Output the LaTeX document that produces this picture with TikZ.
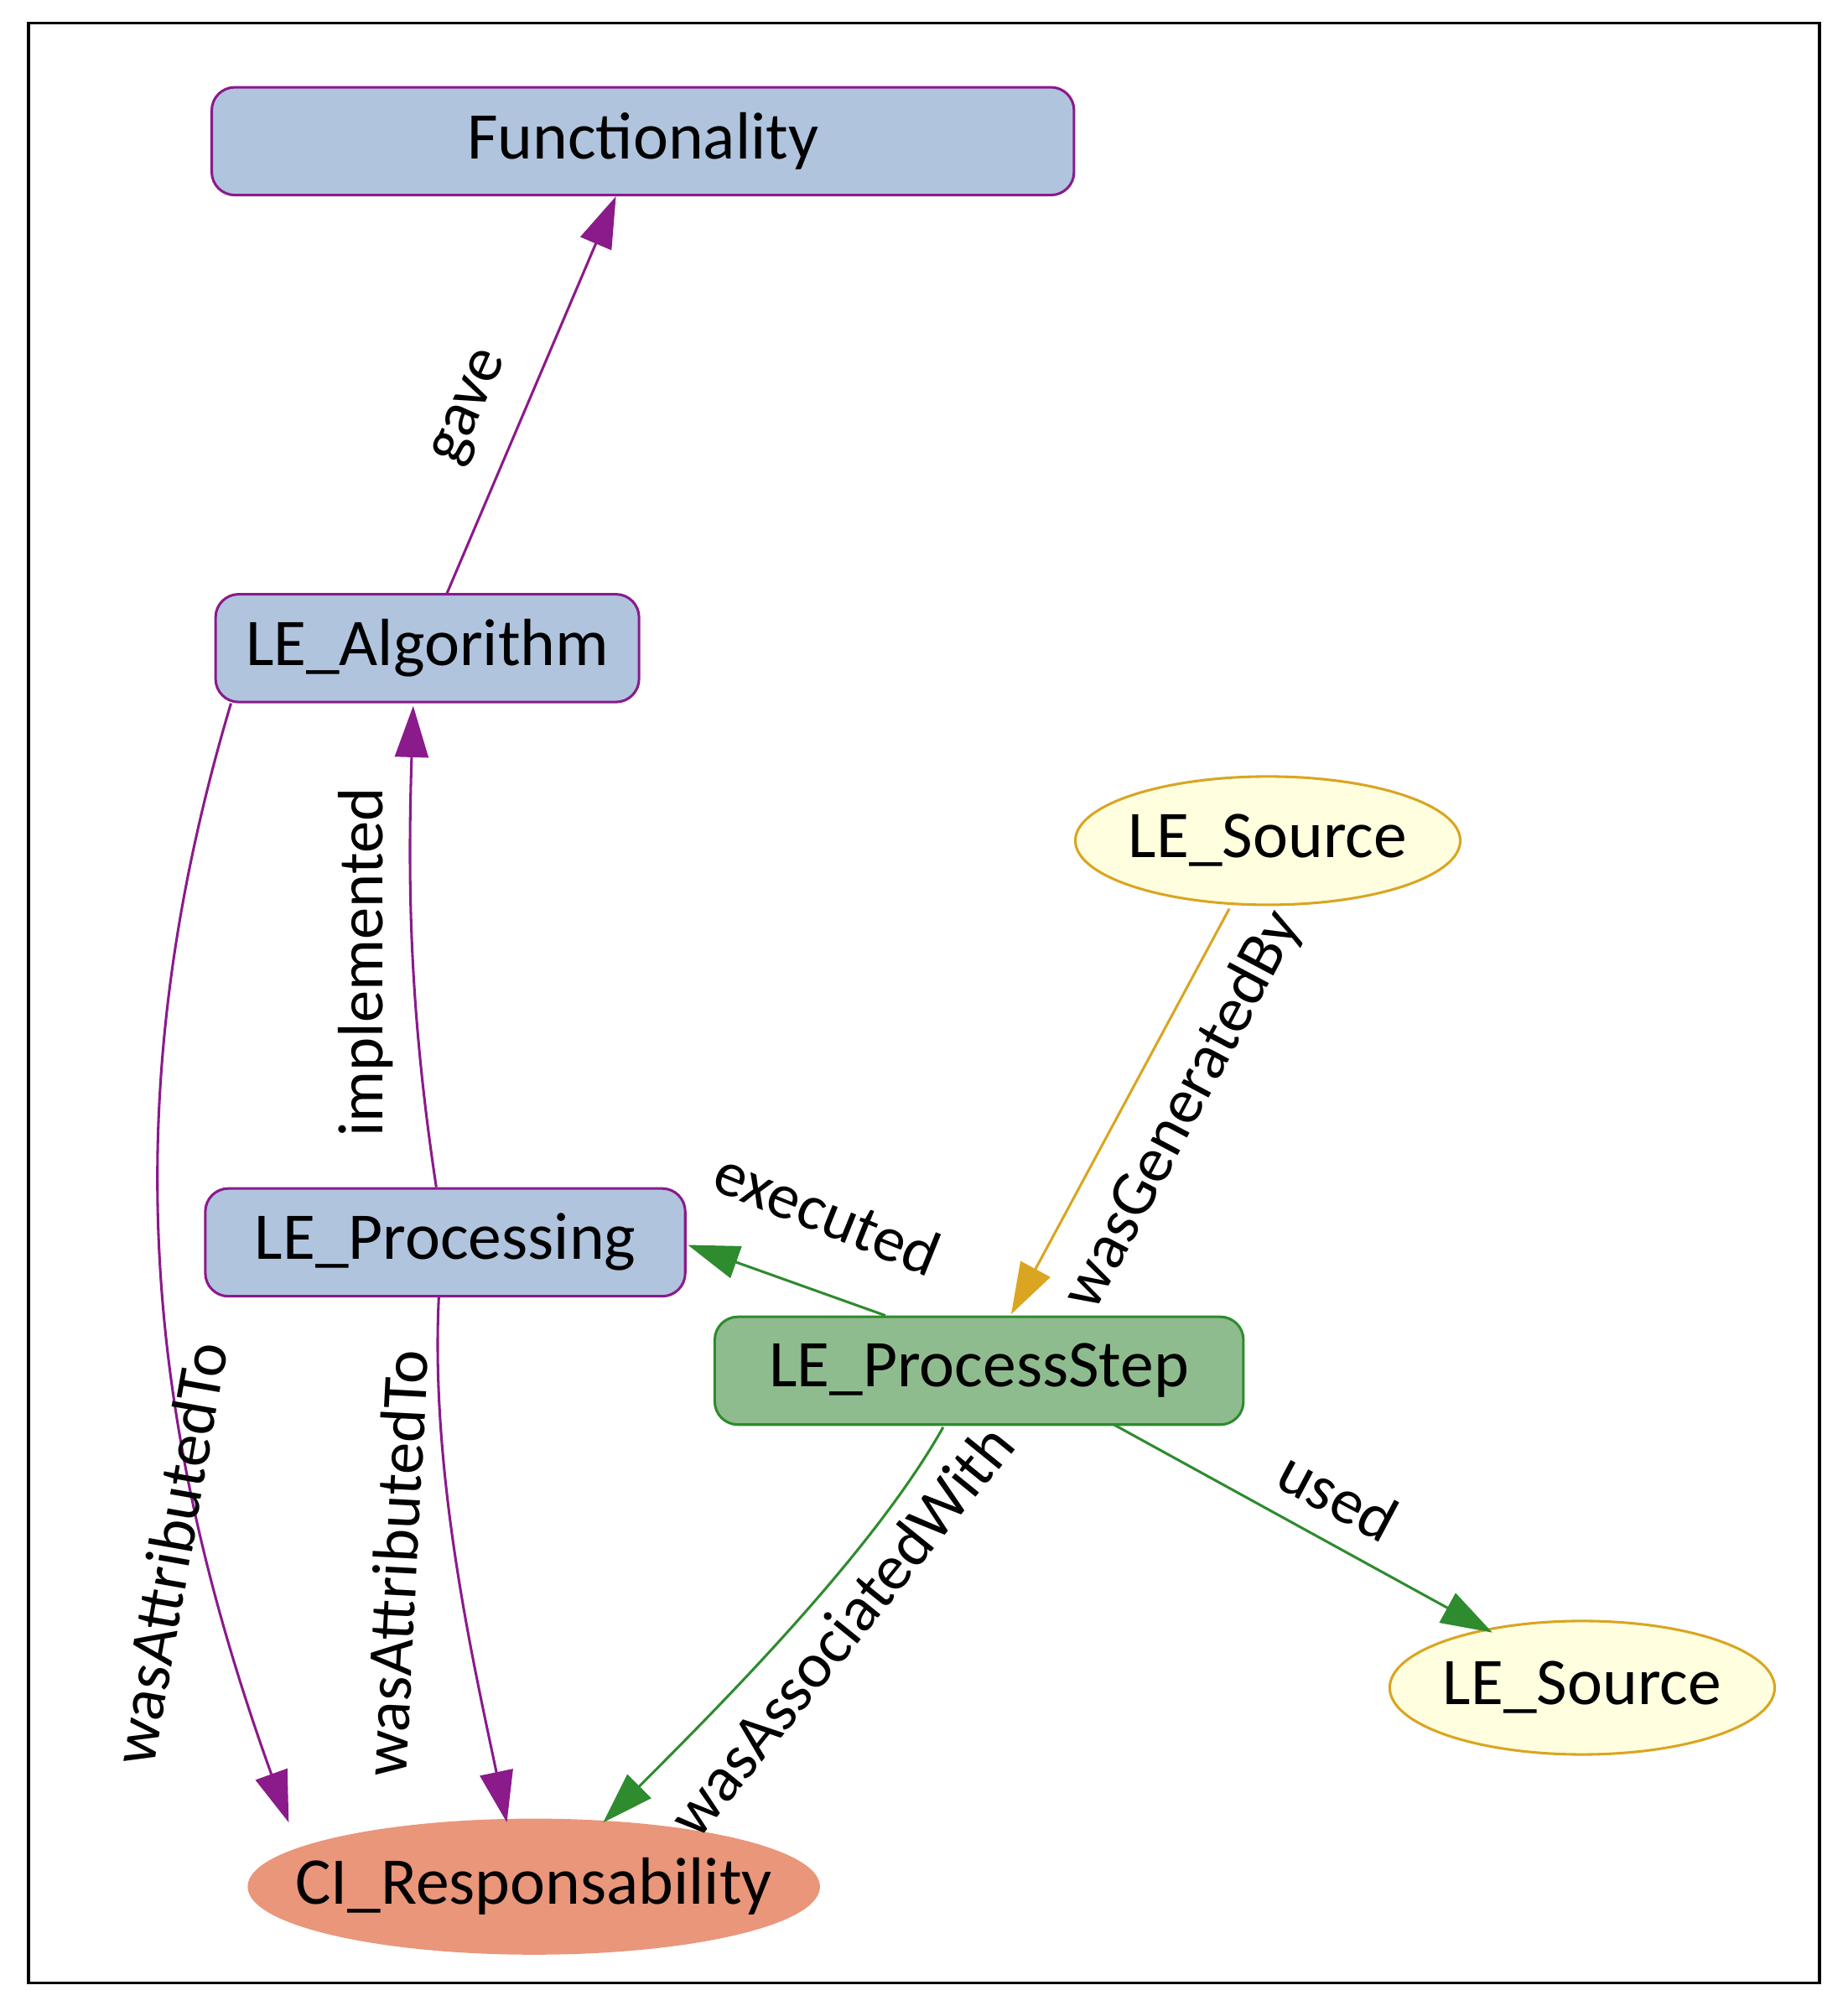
\documentclass[tikz,border=0pt]{standalone}
\usepackage{fontspec}
\setmainfont{Carlito}
\usetikzlibrary{arrows.meta,shapes.geometric}
\definecolor{pur}{HTML}{8B1A8B}
\definecolor{blu}{HTML}{B0C4DE}
\definecolor{grn}{HTML}{8FBC8F}
\definecolor{dgrn}{HTML}{2E8B2E}
\definecolor{gold}{HTML}{DAA520}
\definecolor{ylw}{HTML}{FFFFE0}
\definecolor{sal}{HTML}{E9967A}
\begin{document}
\begin{tikzpicture}[x=0.5pt,y=-0.5pt,
 box/.style={rounded corners=9pt,draw=#1,line width=1pt,font=\fontsize{26}{30}\selectfont,inner sep=0pt},
 ell/.style={ellipse,draw=#1,line width=1pt,font=\fontsize{26}{30}\selectfont,inner sep=0pt},
 ed/.style={draw=#1,line width=1pt,-{Triangle[length=20pt,width=13pt]},color=#1},
 lb/.style={font=\fontsize{25}{30}\selectfont,text=black}]
\useasboundingbox (0,0) rectangle (1440,1563);
\draw[line width=1.2pt] (22,18) rectangle (1418,1545);
\node[box=pur,fill=blu,minimum width=336pt,minimum height=42pt] (F) at (501,110) {Functionality};
\node[box=pur,fill=blu,minimum width=165pt,minimum height=42pt] (A) at (333,505) {LE\_Algorithm};
\node[box=pur,fill=blu,minimum width=187pt,minimum height=42pt] (P) at (347,968) {LE\_Processing};
\node[box=dgrn,fill=grn,minimum width=206pt,minimum height=42pt] (S) at (763,1068) {LE\_ProcessStep};
\node[ell=gold,fill=ylw,minimum width=150pt,minimum height=50pt] (T) at (988,655) {\makebox[0pt]{LE\_Source}};
\node[ell=gold,fill=ylw,minimum width=150pt,minimum height=52pt] (U) at (1233,1315) {\makebox[0pt]{LE\_Source}};
\node[ell=sal,fill=sal,minimum width=222pt,minimum height=52pt] (C) at (416,1470) {\makebox[0pt]{CI\_Responsability}};
\coordinate (a1) at (348,463); \coordinate (f1) at (480,153);
\draw[ed=pur] (a1) -- (f1);
\node[lb,rotate=66] (l1) at (368,318) {gave};
\coordinate (p1) at (340,925); \coordinate (a2) at (322,550);
\draw[ed=pur] (p1) .. controls (318,780) and (318,680) .. (a2);
\node[lb,rotate=90] (l2) at (285,750) {implemented};
\coordinate (a3) at (180,548); \coordinate (c1) at (225,1420);
\draw[ed=pur] (a3) .. controls (90,850) and (110,1100) .. (c1);
\node[lb,rotate=80] (l3) at (132,1210) {wasAttributedTo};
\coordinate (p2) at (342,1010); \coordinate (c2) at (395,1420);
\draw[ed=pur] (p2) .. controls (335,1150) and (370,1300) .. (c2);
\node[lb,rotate=87] (l4) at (308,1218) {wasAttributedTo};
\coordinate (s1) at (690,1025); \coordinate (p3) at (536,970);
\draw[ed=dgrn] (s1) -- (p3);
\node[lb,rotate=-22] (l5) at (645,945) {executed};
\coordinate (t1) at (958,708); \coordinate (s2) at (788,1024);
\draw[ed=gold] (t1) -- (s2);
\node[lb,rotate=62] (l6) at (922,865) {wasGeneratedBy};
\coordinate (s3) at (868,1110); \coordinate (u1) at (1163,1272);
\draw[ed=dgrn] (s3) -- (u1);
\node[lb,rotate=-28] (l7) at (1043,1165) {used};
\coordinate (s4) at (735,1112); \coordinate (c3) at (470,1420);
\draw[ed=dgrn] (s4) .. controls (680,1210) and (560,1330) .. (c3);
\node[lb,rotate=51] (l8) at (655,1270) {wasAssociatedWith};
\end{tikzpicture}
\end{document}
